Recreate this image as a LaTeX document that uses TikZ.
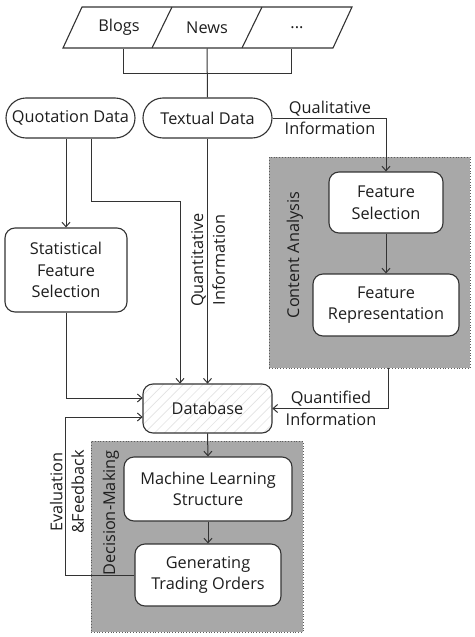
\documentclass[tikz,border=0pt]{standalone}
\usepackage{fontspec}
\setmainfont{Open Sans}
\usetikzlibrary{arrows.meta,shapes.misc,patterns.meta}
\definecolor{ln}{HTML}{333333}
\definecolor{panel}{HTML}{A8A8A8}
\definecolor{txt}{HTML}{1E1E1E}
\begin{document}
\begin{tikzpicture}[x=1pt,y=-1pt,
  font=\fontsize{16.3}{21.7}\selectfont, text=txt,
  line width=1pt, draw=ln,
  box/.style={draw=ln, fill=white, rounded corners=10pt, align=center, inner sep=0pt, line width=1.1pt},
  stad/.style={draw=ln, fill=white, rounded rectangle, align=center, inner sep=0pt, line width=1.1pt, minimum width=129pt, minimum height=40pt},
  panelbox/.style={draw=ln!80, fill=panel, dotted, line width=0.8pt, inner sep=0pt},
  arr/.style={-{Straight Barb[length=4.5pt,width=8pt]}, draw=ln, line width=1pt},
  conn/.style={draw=ln, line width=1pt},
  lbl/.style={align=center, inner sep=0pt},
  para/.style={align=center, inner sep=0pt, minimum height=41pt}
]
\useasboundingbox (0,0) rectangle (474,637);

% top parallelograms
\draw[ln, line width=1.1pt] (63,48) -- (82,7) -- (352,7) -- (333,48) -- cycle;
\draw[ln, line width=1.1pt] (152,48) -- (172,7);
\draw[ln, line width=1.1pt] (242,48) -- (262,7);
\node[para] (blogs) at (119,27.5) {Blogs};
\node[para] (news) at (207,27.5) {News};
\node[para] (dots) at (297,27.5) {...};

% panels
\node[panelbox, minimum width=201pt, minimum height=211pt] (ca) at (369.5,262.5) {};
\node[panelbox, minimum width=212pt, minimum height=191pt] (dm) at (197,536.5) {};
\node[lbl, rotate=90] (calbl) at (295,255) {Content Analysis};
\node[lbl, rotate=90] (dmlbl) at (111,513) {Decision-Making};

% main nodes
\node[stad] (quot) at (70.5,118) {Quotation Data};
\node[stad] (textual) at (207.5,118) {Textual Data};
\node[box, minimum width=122pt, minimum height=84pt] (sfs) at (66,270) {Statistical\\Feature\\Selection};
\node[box, minimum width=114pt, minimum height=61pt] (fsel) at (386,202.5) {Feature\\Selection};
\node[box, minimum width=146pt, minimum height=62pt] (frep) at (386,305) {Feature\\Representation};
\node[box, minimum width=129pt, minimum height=49pt,
      preaction={fill=white},
      pattern={Lines[angle=45,distance=7pt,line width=0.7pt]}, pattern color=gray!22] (db) at (207.5,408.5) {Database};
\node[box, minimum width=168pt, minimum height=64pt] (ml) at (208,489) {Machine Learning\\Structure};
\node[box, minimum width=146pt, minimum height=62pt] (gto) at (208,575) {Generating\\Trading Orders};

% top connectors
\draw[conn] ([xshift=4pt]blogs.south) -- ++(0,25) -| ([xshift=-6pt]dots.south);
\draw[conn] (news.south) -- (textual.north);

% arrows
\draw[arr] (textual.east) -| (fsel.north);
\node[lbl] (qual) at (330,118) {Qualitative\\Information};
\draw[arr] (fsel.south) -- (frep.north);
\draw[arr] ([xshift=-4.5pt]quot.south) -- (sfs.north);
\draw[arr] ([xshift=20.5pt]quot.south) -- ++(0,63) -| ([xshift=-27.5pt]db.north);
\draw[arr] (textual.south) -- (db.north);
\node[lbl, rotate=90] (quant) at (208,260) {Quantitative\\Information};
\draw[arr] (sfs.south) |- ([yshift=10.5pt]db.west);
\draw[arr] ([xshift=18.5pt]ca.south) |- (db.east);
\node[lbl] (qinfo) at (331,408) {Quantified\\Information};
\draw[arr] (db.south) -- (ml.north);
\draw[arr] (ml.south) -- (gto.north);
\draw[arr] (gto.west) -| ++(-69,0) |- ([yshift=-8.5pt]db.west);
\node[lbl, rotate=90] (evfb) at (67,492) {Evaluation\\\&Feedback};
\end{tikzpicture}
\end{document}
